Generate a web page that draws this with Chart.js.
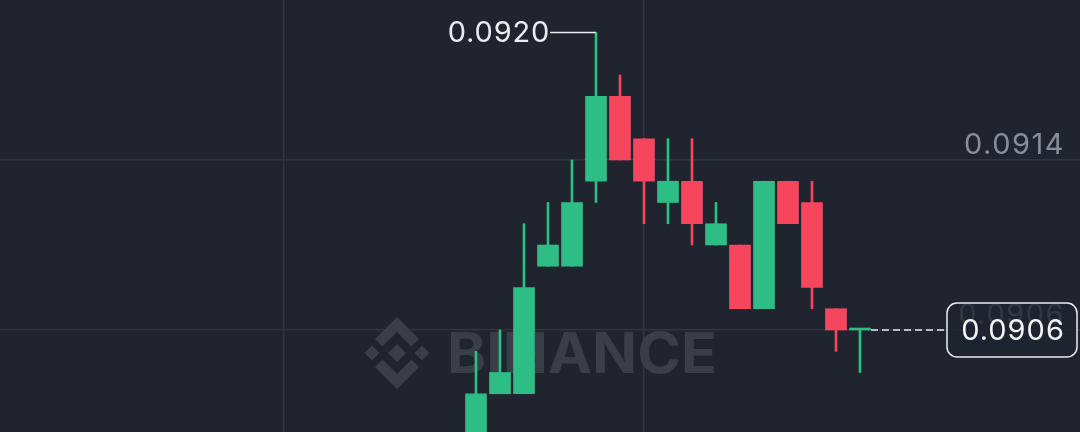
<!DOCTYPE html>
<html>
<head>
<meta charset="utf-8">
<script src="https://cdn.jsdelivr.net/npm/chart.js@4/dist/chart.umd.min.js"></script>
<style>
  html, body { margin: 0; padding: 0; background: #1f242f; overflow: hidden; }
  #c { display: block; }
</style>
</head>
<body>
<canvas id="c" width="1080" height="432"></canvas>
<script>
// ---- data ----
const candleIndex = [0, 1, 2, 3, 4, 5, 6, 7, 8, 9, 10, 11, 12, 13, 14, 15, 16];
const opens  = [0.0900, 0.0903, 0.0903, 0.0909, 0.0909, 0.0913, 0.0917, 0.0915, 0.0912, 0.0913, 0.0910, 0.0910, 0.0907, 0.0913, 0.0912, 0.0907, 0.0906];
const highs  = [0.0905, 0.0906, 0.0911, 0.0912, 0.0914, 0.0920, 0.0918, 0.0915, 0.0915, 0.0915, 0.0912, 0.0910, 0.0913, 0.0913, 0.0913, 0.0907, 0.0906];
const lows   = [0.0899, 0.0903, 0.0903, 0.0909, 0.0909, 0.0912, 0.0914, 0.0911, 0.0911, 0.0910, 0.0910, 0.0907, 0.0907, 0.0911, 0.0907, 0.0905, 0.0904];
const closes = [0.0903, 0.0904, 0.0908, 0.0910, 0.0912, 0.0917, 0.0914, 0.0913, 0.0913, 0.0911, 0.0911, 0.0907, 0.0913, 0.0911, 0.0908, 0.0906, 0.0906];
const priceTicks = [0.0906, 0.0914];
const timeGridAt = [-8, 7];
const lastPrice = 0.0906;

const UP = '#2ebd85', DOWN = '#f6465d';
const colors = candleIndex.map((_, i) => closes[i] >= opens[i] ? UP : DOWN);

const bodies = candleIndex.map((x, i) => ({ x: x, y: [opens[i], closes[i]] }));
const wicks  = candleIndex.map((x, i) => ({ x: x, y: [lows[i], highs[i]] }));

const FONT = '"Inter", "Open Sans", sans-serif';

const overlay = {
  id: 'overlay',
  beforeDatasetsDraw(chart) {
    const ctx = chart.ctx;
    ctx.save();
    // watermark
    const col = '#393e49';
    ctx.fillStyle = col;
    const cx = 397, cy = 353;
    const diamond = (x, y, r) => {
      ctx.beginPath();
      ctx.moveTo(x, y - r); ctx.lineTo(x + r, y); ctx.lineTo(x, y + r); ctx.lineTo(x - r, y);
      ctx.closePath(); ctx.fill();
    };
    diamond(cx, cy, 9);
    diamond(cx - 25, cy, 7.5);
    diamond(cx + 25, cy, 7.5);
    const chevron = (sgn) => {
      ctx.beginPath();
      ctx.moveTo(cx, cy + sgn * -36);
      ctx.lineTo(cx + 22, cy + sgn * -14);
      ctx.lineTo(cx + 14.5, cy + sgn * -6.5);
      ctx.lineTo(cx, cy + sgn * -21);
      ctx.lineTo(cx - 14.5, cy + sgn * -6.5);
      ctx.lineTo(cx - 22, cy + sgn * -14);
      ctx.closePath(); ctx.fill();
    };
    chevron(1); chevron(-1);
    ctx.font = 'bold 56px ' + FONT;
    ctx.textBaseline = 'alphabetic';
    ctx.textAlign = 'left';
    const w = ctx.measureText('BINANCE').width;
    ctx.translate(447, 373);
    ctx.scale(270 / w, 1);
    ctx.fillText('BINANCE', 0, 0);
    ctx.restore();
  },
  afterDatasetsDraw(chart) {
    const ctx = chart.ctx;
    const xs = chart.scales.x, ys = chart.scales.y;
    ctx.save();
    // price tick labels
    ctx.letterSpacing = '1.5px';
    ctx.font = '29px ' + FONT;
    ctx.fillStyle = '#848e9c';
    ctx.textAlign = 'right';
    ctx.textBaseline = 'alphabetic';
    priceTicks.forEach(t => {
      ctx.fillText(t.toFixed(4), 1065, ys.getPixelForValue(t) - 6);
    });
    // max marker
    let mi = 0;
    highs.forEach((h, i) => { if (h > highs[mi]) mi = i; });
    const mx = xs.getPixelForValue(candleIndex[mi]);
    const my = ys.getPixelForValue(highs[mi]);
    ctx.strokeStyle = '#eaecef';
    ctx.lineWidth = 1.5;
    ctx.beginPath(); ctx.moveTo(mx - 46, my); ctx.lineTo(mx, my); ctx.stroke();
    ctx.fillStyle = '#eaecef';
    ctx.textBaseline = 'middle';
    ctx.letterSpacing = '0.8px';
    ctx.fillText(highs[mi].toFixed(4), mx - 46, my + 1);
    // last price dashed line
    const ly = ys.getPixelForValue(lastPrice);
    const lx = xs.getPixelForValue(candleIndex[candleIndex.length - 1]) + 11;
    ctx.setLineDash([7, 4]);
    ctx.beginPath(); ctx.moveTo(lx, ly); ctx.lineTo(947, ly); ctx.stroke();
    ctx.setLineDash([]);
    // price box
    const bx = 947, by = ly - 27, bw = 130, bh = 54, r = 10;
    ctx.beginPath();
    ctx.roundRect(bx, by, bw, bh, r);
    ctx.fillStyle = 'rgba(31,36,47,0.82)';
    ctx.fill();
    ctx.strokeStyle = '#eaecef';
    ctx.lineWidth = 1.5;
    ctx.stroke();
    ctx.fillStyle = '#f5f5f5';
    ctx.textAlign = 'center';
    ctx.textBaseline = 'middle';
    ctx.letterSpacing = '1px';
    ctx.fillText(lastPrice.toFixed(4), bx + bw / 2 + 1, ly + 1);
    ctx.restore();
  }
};

new Chart(document.getElementById('c'), {
  type: 'bar',
  data: {
    datasets: [
      {
        label: 'body', data: bodies, backgroundColor: colors, borderWidth: 0,
        barThickness: 21, minBarLength: 2, grouped: false, order: 1
      },
      {
        label: 'wick', data: wicks, backgroundColor: colors, borderWidth: 0,
        barThickness: 2, grouped: false, order: 2
      }
    ]
  },
  options: {
    responsive: false,
    animation: false,
    devicePixelRatio: 1,
    layout: { padding: 0 },
    plugins: { legend: { display: false }, tooltip: { enabled: false } },
    scales: {
      x: {
        type: 'linear', min: -19.8333, max: 25.1667, offset: false,
        afterBuildTicks(s) { s.ticks = timeGridAt.map(v => ({ value: v })); },
        afterFit(s) { s.height = 0; },
        ticks: { display: false },
        border: { display: false },
        grid: { color: '#30353f', lineWidth: 1.5, drawTicks: false, offset: false }
      },
      y: {
        type: 'linear', min: 0.09012, max: 0.0921529,
        afterBuildTicks(s) { s.ticks = priceTicks.map(v => ({ value: v })); },
        afterFit(s) { s.width = 0; },
        ticks: { display: false },
        border: { display: false },
        grid: { color: '#30353f', lineWidth: 1.5, drawTicks: false, offset: false }
      }
    }
  },
  plugins: [overlay]
});
</script>
</body>
</html>
